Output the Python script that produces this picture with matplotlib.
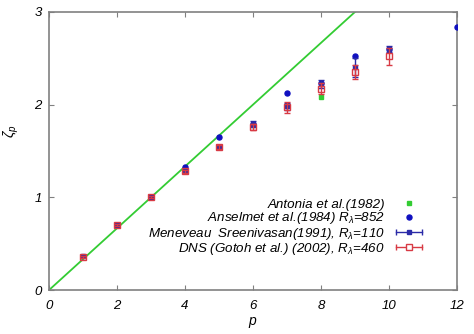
import numpy as np
import matplotlib
matplotlib.use("Agg")
from matplotlib import pyplot as plt
from matplotlib.lines import Line2D
from matplotlib.legend_handler import HandlerLine2D, HandlerTuple

plt.rcParams['font.family'] = ['Liberation Sans', 'DejaVu Sans']
plt.rcParams['font.style'] = 'italic'
plt.rcParams['mathtext.fontset'] = 'custom'
plt.rcParams['mathtext.it'] = 'Liberation Sans:italic'
plt.rcParams['mathtext.rm'] = 'Liberation Sans:italic'

# K41 line zeta_p = p/3
k41_p = [0, 12]
k41_z = [0, 4]

# Antonia et al. (1982)
ant_p = [2, 3, 6, 8]
ant_z = [0.70, 1.00, 1.78, 2.08]

# Anselmet et al. (1984), R_lambda = 852
ans_p = [2, 3, 4, 5, 6, 7, 8, 9, 10, 12]
ans_z = [0.70, 1.00, 1.33, 1.65, 1.79, 2.12, 2.23, 2.52, 2.60, 2.84]

# Meneveau & Sreenivasan (1991), R_lambda = 110
men_p = [1, 2, 3, 4, 5, 6, 7, 8, 9, 10]
men_z = [0.37, 0.70, 1.00, 1.28, 1.54, 1.79, 1.98, 2.22, 2.40, 2.60]
men_err = [0.01, 0.01, 0.01, 0.02, 0.02, 0.03, 0.04, 0.04, 0.10, 0.03]

# DNS Gotoh et al. (2002), R_lambda = 460
dns_p = [1, 2, 3, 4, 5, 6, 7, 8, 9, 10]
dns_z = [0.36, 0.70, 1.00, 1.28, 1.54, 1.76, 1.97, 2.17, 2.35, 2.52]
dns_err = [0.01, 0.01, 0.01, 0.02, 0.02, 0.03, 0.06, 0.06, 0.08, 0.09]

green = '#33cc33'
blue = '#1010c0'
mblue = '#2a2aa8'
red = '#d83a44'

fig = plt.figure(figsize=(4.74, 3.34), dpi=100)
ax = fig.add_axes([0.103, 0.131, 0.862, 0.834])

ax.plot(k41_p, k41_z, color=green, lw=1.3, zorder=1)
ax.plot(ant_p, ant_z, 's', color=green, ms=3.2, zorder=2)
ax.plot(ans_p, ans_z, 'o', color=blue, ms=3.6, zorder=3)
ax.errorbar(men_p, men_z, yerr=men_err, fmt='s', color=mblue, ms=3.0,
            elinewidth=1, capsize=2, zorder=4)
ax.errorbar(dns_p, dns_z, yerr=dns_err, fmt='s', mfc='none', mec=red, ecolor=red,
            ms=5, mew=1, elinewidth=1, capsize=2, zorder=5)

ax.set_xlim(0, 12)
ax.set_ylim(0, 3)
ax.set_xticks(range(0, 13, 2))
ax.set_yticks([0, 1, 2, 3])
ax.tick_params(direction='in', length=3.5, color='#808080', top=True, right=True,
               labelsize=9.5)
ax.tick_params(axis='x', pad=7)
ax.tick_params(axis='y', pad=5)
for sp in ax.spines.values():
    sp.set_color('#808080')
    sp.set_linewidth(1.2)

ax.set_xlabel('$p$', fontsize=10, labelpad=2)
ax.set_ylabel(r'$\zeta_p$', fontsize=10)
ax.yaxis.set_label_coords(-0.068, 0.57)

# legend handles (gnuplot style)
h_ant = Line2D([], [], ls='none', marker='s', color=green, ms=3.2)
h_ans = Line2D([], [], ls='none', marker='o', color=blue, ms=3.6)
h_men_bar = Line2D([], [], ls='-', lw=1, marker='|', color=mblue, ms=4)
h_men_pt = Line2D([], [], ls='none', marker='s', color=mblue, ms=3.0)
h_dns_bar = Line2D([], [], ls='-', lw=1, marker='|', color=red, ms=4)
h_dns_pt = Line2D([], [], ls='none', marker='s', mfc='white', mec=red, ms=5, mew=1)

hmap = {h_men_bar: HandlerLine2D(numpoints=2), h_dns_bar: HandlerLine2D(numpoints=2),
        h_ant: HandlerLine2D(numpoints=1), h_ans: HandlerLine2D(numpoints=1),
        h_men_pt: HandlerLine2D(numpoints=1), h_dns_pt: HandlerLine2D(numpoints=1),
        tuple: HandlerTuple(ndivide=1, pad=0)}

labels = ['Antonia et al.(1982)',
          r'Anselmet et al.(1984) $R_\lambda$=852',
          r'Meneveau  Sreenivasan(1991), $R_\lambda$=110',
          r'DNS (Gotoh et al.) (2002), $R_\lambda$=460']
leg = ax.legend([h_ant, h_ans, (h_men_bar, h_men_pt), (h_dns_bar, h_dns_pt)], labels,
                handler_map=hmap, loc='lower right', bbox_to_anchor=(0.94, 0.095),
                frameon=False, markerfirst=False, fontsize=9.6, handlelength=2.6,
                handletextpad=0.5, labelspacing=-0.05, borderpad=0)

fig.savefig('out.png', dpi=100)
